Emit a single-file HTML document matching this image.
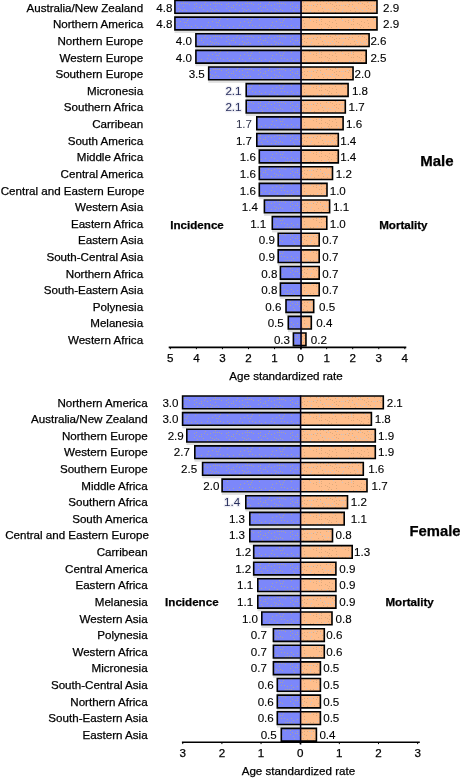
<!DOCTYPE html>
<html><head><meta charset="utf-8"><title>Age standardized rate</title>
<style>
html,body{margin:0;padding:0;background:#fff;}
svg{display:block;font-family:"Liberation Sans",sans-serif;font-size:11.6px;}
text{fill:#000;stroke:#000;stroke-width:0.25px;}
text.v{stroke-width:0.12px;}
text.g{fill:#30344c;stroke:none;}
text.b{fill:#262d5c;stroke:#eeeef4;stroke-width:2.4px;paint-order:stroke;stroke-linejoin:round;}
</style></head><body>
<svg width="460" height="779" viewBox="0 0 460 779">
<rect width="460" height="779" fill="#fff"/>
<defs>
<pattern id="pb" width="32" height="33" patternUnits="userSpaceOnUse"><rect width="32" height="33" fill="#7c87fa"/><rect x="20" y="9" width="1" height="1" fill="#b2a98e" opacity="0.8"/><rect x="25" y="3" width="1" height="1" fill="#b2a98e" opacity="0.8"/><rect x="4" y="6" width="1" height="1" fill="#b2a98e" opacity="0.8"/><rect x="23" y="3" width="1" height="1" fill="#b2a98e" opacity="0.8"/><rect x="13" y="2" width="1" height="1" fill="#b2a98e" opacity="0.8"/><rect x="5" y="27" width="1" height="1" fill="#b2a98e" opacity="0.8"/><rect x="15" y="5" width="1" height="1" fill="#b2a98e" opacity="0.8"/><rect x="27" y="3" width="1" height="1" fill="#b2a98e" opacity="0.8"/><rect x="7" y="14" width="1" height="1" fill="#b2a98e" opacity="0.8"/><rect x="3" y="25" width="1" height="1" fill="#b2a98e" opacity="0.8"/><rect x="3" y="14" width="1" height="1" fill="#b2a98e" opacity="0.8"/><rect x="2" y="8" width="1" height="1" fill="#b2a98e" opacity="0.8"/><rect x="18" y="26" width="1" height="1" fill="#b2a98e" opacity="0.8"/><rect x="9" y="7" width="1" height="1" fill="#b2a98e" opacity="0.8"/><rect x="19" y="11" width="1" height="1" fill="#b2a98e" opacity="0.8"/><rect x="6" y="12" width="1" height="1" fill="#b2a98e" opacity="0.8"/><rect x="23" y="6" width="1" height="1" fill="#b2a98e" opacity="0.8"/><rect x="4" y="3" width="1" height="1" fill="#b2a98e" opacity="0.8"/><rect x="13" y="31" width="1" height="1" fill="#b2a98e" opacity="0.8"/><rect x="27" y="20" width="1" height="1" fill="#b2a98e" opacity="0.8"/><rect x="29" y="29" width="1" height="1" fill="#b2a98e" opacity="0.8"/><rect x="23" y="19" width="1" height="1" fill="#b2a98e" opacity="0.8"/><rect x="15" y="11" width="1" height="1" fill="#b2a98e" opacity="0.8"/><rect x="19" y="31" width="1" height="1" fill="#b2a98e" opacity="0.8"/><rect x="21" y="28" width="1" height="1" fill="#b2a98e" opacity="0.8"/><rect x="18" y="4" width="1" height="1" fill="#b2a98e" opacity="0.8"/><rect x="7" y="32" width="1" height="1" fill="#b2a98e" opacity="0.8"/><rect x="26" y="10" width="1" height="1" fill="#b2a98e" opacity="0.8"/><rect x="31" y="26" width="1" height="1" fill="#b2a98e" opacity="0.8"/><rect x="2" y="4" width="1" height="1" fill="#b2a98e" opacity="0.8"/><rect x="20" y="21" width="1" height="1" fill="#b2a98e" opacity="0.8"/><rect x="22" y="31" width="1" height="1" fill="#b2a98e" opacity="0.8"/><rect x="29" y="4" width="1" height="1" fill="#b2a98e" opacity="0.8"/><rect x="5" y="17" width="1" height="1" fill="#b2a98e" opacity="0.8"/><rect x="3" y="19" width="1" height="1" fill="#b2a98e" opacity="0.8"/><rect x="28" y="18" width="1" height="1" fill="#b2a98e" opacity="0.8"/><rect x="24" y="22" width="1" height="1" fill="#b2a98e" opacity="0.8"/><rect x="1" y="29" width="1" height="1" fill="#b2a98e" opacity="0.8"/><rect x="22" y="10" width="1" height="1" fill="#b2a98e" opacity="0.8"/><rect x="18" y="8" width="1" height="1" fill="#b2a98e" opacity="0.8"/><rect x="15" y="25" width="1" height="1" fill="#b2a98e" opacity="0.8"/><rect x="25" y="31" width="1" height="1" fill="#b2a98e" opacity="0.8"/><rect x="5" y="10" width="1" height="1" fill="#b2a98e" opacity="0.8"/><rect x="28" y="25" width="1" height="1" fill="#b2a98e" opacity="0.8"/><rect x="26" y="22" width="1" height="1" fill="#b2a98e" opacity="0.8"/><rect x="24" y="14" width="1" height="1" fill="#b2a98e" opacity="0.8"/><rect x="9" y="5" width="1" height="1" fill="#b2a98e" opacity="0.8"/><rect x="11" y="9" width="1" height="1" fill="#b2a98e" opacity="0.8"/><rect x="14" y="14" width="1" height="1" fill="#b2a98e" opacity="0.8"/><rect x="0" y="31" width="1" height="1" fill="#b2a98e" opacity="0.8"/><rect x="11" y="16" width="1" height="1" fill="#b2a98e" opacity="0.8"/><rect x="18" y="0" width="1" height="1" fill="#b2a98e" opacity="0.8"/><rect x="9" y="26" width="1" height="1" fill="#b2a98e" opacity="0.8"/><rect x="3" y="29" width="1" height="1" fill="#b2a98e" opacity="0.8"/><rect x="25" y="25" width="1" height="1" fill="#b2a98e" opacity="0.8"/><rect x="6" y="30" width="1" height="1" fill="#b2a98e" opacity="0.8"/><rect x="12" y="4" width="1" height="1" fill="#b2a98e" opacity="0.8"/><rect x="13" y="28" width="1" height="1" fill="#b2a98e" opacity="0.8"/><rect x="21" y="3" width="1" height="1" fill="#b2a98e" opacity="0.8"/><rect x="6" y="0" width="1" height="1" fill="#b2a98e" opacity="0.8"/><rect x="23" y="1" width="1" height="1" fill="#b2a98e" opacity="0.8"/><rect x="24" y="9" width="1" height="1" fill="#b2a98e" opacity="0.8"/><rect x="16" y="22" width="1" height="1" fill="#b2a98e" opacity="0.8"/><rect x="7" y="7" width="1" height="1" fill="#b2a98e" opacity="0.8"/><rect x="31" y="29" width="1" height="1" fill="#b2a98e" opacity="0.8"/><rect x="21" y="16" width="1" height="1" fill="#b2a98e" opacity="0.8"/></pattern>
<pattern id="po" width="32" height="33" patternUnits="userSpaceOnUse"><rect width="32" height="33" fill="#ffbe8c"/><rect x="30" y="10" width="1" height="1" fill="#d8a678" opacity="0.85"/><rect x="1" y="13" width="1" height="1" fill="#d8a678" opacity="0.85"/><rect x="23" y="9" width="1" height="1" fill="#c0c6d4" opacity="0.85"/><rect x="1" y="19" width="1" height="1" fill="#d8a678" opacity="0.85"/><rect x="5" y="16" width="1" height="1" fill="#d8a678" opacity="0.85"/><rect x="22" y="14" width="1" height="1" fill="#c0c6d4" opacity="0.85"/><rect x="12" y="15" width="1" height="1" fill="#d8a678" opacity="0.85"/><rect x="25" y="14" width="1" height="1" fill="#d8a678" opacity="0.85"/><rect x="12" y="31" width="1" height="1" fill="#c0c6d4" opacity="0.85"/><rect x="22" y="1" width="1" height="1" fill="#d8a678" opacity="0.85"/><rect x="1" y="17" width="1" height="1" fill="#d8a678" opacity="0.85"/><rect x="30" y="16" width="1" height="1" fill="#c0c6d4" opacity="0.85"/><rect x="12" y="22" width="1" height="1" fill="#d8a678" opacity="0.85"/><rect x="28" y="22" width="1" height="1" fill="#d8a678" opacity="0.85"/><rect x="23" y="5" width="1" height="1" fill="#c0c6d4" opacity="0.85"/><rect x="14" y="6" width="1" height="1" fill="#d8a678" opacity="0.85"/><rect x="14" y="30" width="1" height="1" fill="#d8a678" opacity="0.85"/><rect x="0" y="30" width="1" height="1" fill="#c0c6d4" opacity="0.85"/><rect x="7" y="24" width="1" height="1" fill="#d8a678" opacity="0.85"/><rect x="11" y="27" width="1" height="1" fill="#d8a678" opacity="0.85"/><rect x="21" y="5" width="1" height="1" fill="#c0c6d4" opacity="0.85"/><rect x="25" y="29" width="1" height="1" fill="#d8a678" opacity="0.85"/><rect x="25" y="5" width="1" height="1" fill="#d8a678" opacity="0.85"/><rect x="10" y="10" width="1" height="1" fill="#c0c6d4" opacity="0.85"/><rect x="8" y="1" width="1" height="1" fill="#d8a678" opacity="0.85"/><rect x="9" y="29" width="1" height="1" fill="#d8a678" opacity="0.85"/><rect x="0" y="6" width="1" height="1" fill="#c0c6d4" opacity="0.85"/><rect x="8" y="27" width="1" height="1" fill="#d8a678" opacity="0.85"/><rect x="12" y="13" width="1" height="1" fill="#d8a678" opacity="0.85"/><rect x="13" y="18" width="1" height="1" fill="#c0c6d4" opacity="0.85"/><rect x="15" y="20" width="1" height="1" fill="#d8a678" opacity="0.85"/><rect x="16" y="26" width="1" height="1" fill="#d8a678" opacity="0.85"/><rect x="8" y="3" width="1" height="1" fill="#c0c6d4" opacity="0.85"/><rect x="22" y="29" width="1" height="1" fill="#d8a678" opacity="0.85"/><rect x="26" y="32" width="1" height="1" fill="#d8a678" opacity="0.85"/><rect x="8" y="9" width="1" height="1" fill="#c0c6d4" opacity="0.85"/><rect x="1" y="28" width="1" height="1" fill="#d8a678" opacity="0.85"/><rect x="11" y="0" width="1" height="1" fill="#d8a678" opacity="0.85"/><rect x="20" y="30" width="1" height="1" fill="#c0c6d4" opacity="0.85"/><rect x="6" y="3" width="1" height="1" fill="#d8a678" opacity="0.85"/><rect x="15" y="12" width="1" height="1" fill="#d8a678" opacity="0.85"/><rect x="17" y="2" width="1" height="1" fill="#c0c6d4" opacity="0.85"/><rect x="6" y="32" width="1" height="1" fill="#d8a678" opacity="0.85"/><rect x="28" y="1" width="1" height="1" fill="#d8a678" opacity="0.85"/><rect x="4" y="28" width="1" height="1" fill="#c0c6d4" opacity="0.85"/><rect x="20" y="32" width="1" height="1" fill="#d8a678" opacity="0.85"/><rect x="28" y="32" width="1" height="1" fill="#d8a678" opacity="0.85"/><rect x="30" y="32" width="1" height="1" fill="#c0c6d4" opacity="0.85"/><rect x="15" y="16" width="1" height="1" fill="#d8a678" opacity="0.85"/><rect x="28" y="20" width="1" height="1" fill="#d8a678" opacity="0.85"/><rect x="27" y="4" width="1" height="1" fill="#c0c6d4" opacity="0.85"/><rect x="16" y="8" width="1" height="1" fill="#d8a678" opacity="0.85"/><rect x="29" y="14" width="1" height="1" fill="#d8a678" opacity="0.85"/><rect x="14" y="10" width="1" height="1" fill="#c0c6d4" opacity="0.85"/><rect x="25" y="21" width="1" height="1" fill="#d8a678" opacity="0.85"/><rect x="26" y="12" width="1" height="1" fill="#d8a678" opacity="0.85"/><rect x="22" y="20" width="1" height="1" fill="#c0c6d4" opacity="0.85"/><rect x="5" y="23" width="1" height="1" fill="#d8a678" opacity="0.85"/><rect x="1" y="21" width="1" height="1" fill="#d8a678" opacity="0.85"/><rect x="29" y="28" width="1" height="1" fill="#c0c6d4" opacity="0.85"/><rect x="1" y="24" width="1" height="1" fill="#d8a678" opacity="0.85"/><rect x="21" y="18" width="1" height="1" fill="#d8a678" opacity="0.85"/><rect x="4" y="7" width="1" height="1" fill="#c0c6d4" opacity="0.85"/><rect x="11" y="17" width="1" height="1" fill="#d8a678" opacity="0.85"/><rect x="9" y="32" width="1" height="1" fill="#d8a678" opacity="0.85"/><rect x="31" y="20" width="1" height="1" fill="#c0c6d4" opacity="0.85"/><rect x="3" y="11" width="1" height="1" fill="#d8a678" opacity="0.85"/><rect x="5" y="14" width="1" height="1" fill="#d8a678" opacity="0.85"/><rect x="7" y="29" width="1" height="1" fill="#c0c6d4" opacity="0.85"/><rect x="26" y="17" width="1" height="1" fill="#d8a678" opacity="0.85"/><rect x="19" y="13" width="1" height="1" fill="#d8a678" opacity="0.85"/><rect x="18" y="28" width="1" height="1" fill="#c0c6d4" opacity="0.85"/><rect x="0" y="1" width="1" height="1" fill="#d8a678" opacity="0.85"/><rect x="28" y="6" width="1" height="1" fill="#d8a678" opacity="0.85"/><rect x="12" y="8" width="1" height="1" fill="#c0c6d4" opacity="0.85"/><rect x="0" y="4" width="1" height="1" fill="#d8a678" opacity="0.85"/><rect x="10" y="3" width="1" height="1" fill="#d8a678" opacity="0.85"/><rect x="18" y="15" width="1" height="1" fill="#c0c6d4" opacity="0.85"/><rect x="16" y="23" width="1" height="1" fill="#d8a678" opacity="0.85"/><rect x="15" y="2" width="1" height="1" fill="#d8a678" opacity="0.85"/><rect x="22" y="11" width="1" height="1" fill="#c0c6d4" opacity="0.85"/><rect x="16" y="5" width="1" height="1" fill="#d8a678" opacity="0.85"/><rect x="9" y="25" width="1" height="1" fill="#d8a678" opacity="0.85"/><rect x="5" y="9" width="1" height="1" fill="#c0c6d4" opacity="0.85"/><rect x="18" y="9" width="1" height="1" fill="#d8a678" opacity="0.85"/><rect x="2" y="32" width="1" height="1" fill="#d8a678" opacity="0.85"/><rect x="5" y="1" width="1" height="1" fill="#c0c6d4" opacity="0.85"/><rect x="2" y="8" width="1" height="1" fill="#d8a678" opacity="0.85"/><rect x="3" y="1" width="1" height="1" fill="#d8a678" opacity="0.85"/><rect x="16" y="0" width="1" height="1" fill="#c0c6d4" opacity="0.85"/><rect x="29" y="4" width="1" height="1" fill="#d8a678" opacity="0.85"/><rect x="31" y="24" width="1" height="1" fill="#d8a678" opacity="0.85"/><rect x="4" y="30" width="1" height="1" fill="#c0c6d4" opacity="0.85"/><rect x="12" y="4" width="1" height="1" fill="#d8a678" opacity="0.85"/><rect x="9" y="21" width="1" height="1" fill="#d8a678" opacity="0.85"/><rect x="31" y="18" width="1" height="1" fill="#c0c6d4" opacity="0.85"/><rect x="7" y="12" width="1" height="1" fill="#d8a678" opacity="0.85"/><rect x="19" y="5" width="1" height="1" fill="#d8a678" opacity="0.85"/><rect x="30" y="1" width="1" height="1" fill="#c0c6d4" opacity="0.85"/><rect x="4" y="32" width="1" height="1" fill="#d8a678" opacity="0.85"/></pattern>
</defs>
<rect x="174.60" y="14.05" width="126.45" height="2.32" fill="#e0e0e0"/>
<path d="M301.05 0.55H174.90V13.25H301.05" fill="url(#pb)" stroke="#000" stroke-width="1.6"/>
<path d="M301.05 0.55H377.00V13.25H301.05" fill="url(#po)" stroke="#000" stroke-width="1.6"/>
<text x="143.1" y="11.70" text-anchor="end">Australia/New Zealand</text>
<text x="156.23" y="11.70" font-size="11.6" class="v">4.8</text>
<text x="383.00" y="11.70" font-size="11.6" class="v">2.9</text>
<rect x="174.60" y="30.67" width="126.45" height="2.32" fill="#e0e0e0"/>
<path d="M301.05 17.17H174.90V29.87H301.05" fill="url(#pb)" stroke="#000" stroke-width="1.6"/>
<path d="M301.05 17.17H377.00V29.87H301.05" fill="url(#po)" stroke="#000" stroke-width="1.6"/>
<text x="143.1" y="28.32" text-anchor="end">Northern America</text>
<text x="156.23" y="28.32" font-size="11.6" class="v">4.8</text>
<text x="383.00" y="28.32" font-size="11.6" class="v">2.9</text>
<rect x="195.60" y="47.29" width="105.45" height="2.32" fill="#e0e0e0"/>
<path d="M301.05 33.79H195.90V46.49H301.05" fill="url(#pb)" stroke="#000" stroke-width="1.6"/>
<path d="M301.05 33.79H369.10V46.49H301.05" fill="url(#po)" stroke="#000" stroke-width="1.6"/>
<text x="143.1" y="44.94" text-anchor="end">Northern Europe</text>
<text x="175.83" y="44.94" font-size="11.6" class="v">4.0</text>
<text x="370.40" y="44.94" font-size="11.6" class="v">2.6</text>
<rect x="195.60" y="63.91" width="105.45" height="2.32" fill="#e0e0e0"/>
<path d="M301.05 50.41H195.90V63.11H301.05" fill="url(#pb)" stroke="#000" stroke-width="1.6"/>
<path d="M301.05 50.41H366.20V63.11H301.05" fill="url(#po)" stroke="#000" stroke-width="1.6"/>
<text x="143.1" y="61.56" text-anchor="end">Western Europe</text>
<text x="175.83" y="61.56" font-size="11.6" class="v">4.0</text>
<text x="370.40" y="61.56" font-size="11.6" class="v">2.5</text>
<rect x="208.40" y="80.53" width="92.65" height="2.32" fill="#e0e0e0"/>
<path d="M301.05 67.03H208.70V79.73H301.05" fill="url(#pb)" stroke="#000" stroke-width="1.6"/>
<path d="M301.05 67.03H353.05V79.73H301.05" fill="url(#po)" stroke="#000" stroke-width="1.6"/>
<text x="143.1" y="78.18" text-anchor="end">Southern Europe</text>
<text x="188.63" y="78.18" font-size="11.6" class="v">3.5</text>
<text x="354.50" y="78.18" font-size="11.6" class="v">2.0</text>
<rect x="245.90" y="97.15" width="55.15" height="2.32" fill="#e0e0e0"/>
<path d="M301.05 83.65H246.20V96.35H301.05" fill="url(#pb)" stroke="#000" stroke-width="1.6"/>
<path d="M301.05 83.65H348.10V96.35H301.05" fill="url(#po)" stroke="#000" stroke-width="1.6"/>
<text x="143.1" y="94.80" text-anchor="end">Micronesia</text>
<text x="225.43" y="94.80" font-size="11.6" class="b">2.1</text>
<text x="351.90" y="94.80" font-size="11.6" class="v">1.8</text>
<rect x="245.90" y="113.77" width="55.15" height="2.32" fill="#e0e0e0"/>
<path d="M301.05 100.27H246.20V112.97H301.05" fill="url(#pb)" stroke="#000" stroke-width="1.6"/>
<path d="M301.05 100.27H345.30V112.97H301.05" fill="url(#po)" stroke="#000" stroke-width="1.6"/>
<text x="143.1" y="111.42" text-anchor="end">Southern Africa</text>
<text x="225.43" y="111.42" font-size="11.6" class="b">2.1</text>
<text x="348.60" y="111.42" font-size="11.6" class="v">1.7</text>
<rect x="256.50" y="130.39" width="44.55" height="2.32" fill="#e0e0e0"/>
<path d="M301.05 116.89H256.80V129.59H301.05" fill="url(#pb)" stroke="#000" stroke-width="1.6"/>
<path d="M301.05 116.89H343.10V129.59H301.05" fill="url(#po)" stroke="#000" stroke-width="1.6"/>
<text x="143.1" y="128.04" text-anchor="end">Carribean</text>
<text x="235.93" y="128.04" font-size="11.6" class="g">1.7</text>
<text x="346.00" y="128.04" font-size="11.6" class="v">1.6</text>
<rect x="256.50" y="147.01" width="44.55" height="2.32" fill="#e0e0e0"/>
<path d="M301.05 133.51H256.80V146.21H301.05" fill="url(#pb)" stroke="#000" stroke-width="1.6"/>
<path d="M301.05 133.51H338.30V146.21H301.05" fill="url(#po)" stroke="#000" stroke-width="1.6"/>
<text x="143.1" y="144.66" text-anchor="end">South America</text>
<text x="235.93" y="144.66" font-size="11.6" class="v">1.7</text>
<text x="340.20" y="144.66" font-size="11.6" class="v">1.4</text>
<rect x="259.00" y="163.63" width="42.05" height="2.32" fill="#e0e0e0"/>
<path d="M301.05 150.13H259.30V162.83H301.05" fill="url(#pb)" stroke="#000" stroke-width="1.6"/>
<path d="M301.05 150.13H338.30V162.83H301.05" fill="url(#po)" stroke="#000" stroke-width="1.6"/>
<text x="143.1" y="161.28" text-anchor="end">Middle Africa</text>
<text x="239.83" y="161.28" font-size="11.6" class="v">1.6</text>
<text x="340.20" y="161.28" font-size="11.6" class="v">1.4</text>
<rect x="259.00" y="180.25" width="42.05" height="2.32" fill="#e0e0e0"/>
<path d="M301.05 166.75H259.30V179.45H301.05" fill="url(#pb)" stroke="#000" stroke-width="1.6"/>
<path d="M301.05 166.75H332.50V179.45H301.05" fill="url(#po)" stroke="#000" stroke-width="1.6"/>
<text x="143.1" y="177.90" text-anchor="end">Central America</text>
<text x="239.83" y="177.90" font-size="11.6" class="v">1.6</text>
<text x="335.80" y="177.90" font-size="11.6" class="v">1.2</text>
<rect x="259.00" y="196.87" width="42.05" height="2.32" fill="#e0e0e0"/>
<path d="M301.05 183.37H259.30V196.07H301.05" fill="url(#pb)" stroke="#000" stroke-width="1.6"/>
<path d="M301.05 183.37H327.00V196.07H301.05" fill="url(#po)" stroke="#000" stroke-width="1.6"/>
<text x="144.4" y="194.52" text-anchor="end">Central and Eastern Europe</text>
<text x="239.83" y="194.52" font-size="11.6" class="v">1.6</text>
<text x="329.70" y="194.52" font-size="11.6" class="v">1.0</text>
<rect x="264.10" y="213.49" width="36.95" height="2.32" fill="#e0e0e0"/>
<path d="M301.05 199.99H264.40V212.69H301.05" fill="url(#pb)" stroke="#000" stroke-width="1.6"/>
<path d="M301.05 199.99H329.60V212.69H301.05" fill="url(#po)" stroke="#000" stroke-width="1.6"/>
<text x="143.1" y="211.14" text-anchor="end">Western Asia</text>
<text x="241.83" y="211.14" font-size="11.6" class="v">1.4</text>
<text x="333.00" y="211.14" font-size="11.6" class="v">1.1</text>
<rect x="272.00" y="230.11" width="29.05" height="2.32" fill="#e0e0e0"/>
<path d="M301.05 216.61H272.30V229.31H301.05" fill="url(#pb)" stroke="#000" stroke-width="1.6"/>
<path d="M301.05 216.61H326.80V229.31H301.05" fill="url(#po)" stroke="#000" stroke-width="1.6"/>
<text x="143.1" y="227.76" text-anchor="end">Eastern Africa</text>
<text x="250.13" y="227.76" font-size="11.6" class="v">1.1</text>
<text x="329.70" y="227.76" font-size="11.6" class="v">1.0</text>
<rect x="277.90" y="246.73" width="23.15" height="2.32" fill="#e0e0e0"/>
<path d="M301.05 233.23H278.20V245.93H301.05" fill="url(#pb)" stroke="#000" stroke-width="1.6"/>
<path d="M301.05 233.23H319.20V245.93H301.05" fill="url(#po)" stroke="#000" stroke-width="1.6"/>
<text x="143.1" y="244.38" text-anchor="end">Eastern Asia</text>
<text x="258.83" y="244.38" font-size="11.6" class="v">0.9</text>
<text x="322.30" y="244.38" font-size="11.6" class="v">0.7</text>
<rect x="277.90" y="263.35" width="23.15" height="2.32" fill="#e0e0e0"/>
<path d="M301.05 249.85H278.20V262.55H301.05" fill="url(#pb)" stroke="#000" stroke-width="1.6"/>
<path d="M301.05 249.85H319.20V262.55H301.05" fill="url(#po)" stroke="#000" stroke-width="1.6"/>
<text x="143.1" y="261.00" text-anchor="end">South-Central Asia</text>
<text x="258.83" y="261.00" font-size="11.6" class="v">0.9</text>
<text x="322.30" y="261.00" font-size="11.6" class="v">0.7</text>
<rect x="280.10" y="279.97" width="20.95" height="2.32" fill="#e0e0e0"/>
<path d="M301.05 266.47H280.40V279.17H301.05" fill="url(#pb)" stroke="#000" stroke-width="1.6"/>
<path d="M301.05 266.47H319.20V279.17H301.05" fill="url(#po)" stroke="#000" stroke-width="1.6"/>
<text x="143.1" y="277.62" text-anchor="end">Northern Africa</text>
<text x="261.33" y="277.62" font-size="11.6" class="v">0.8</text>
<text x="322.30" y="277.62" font-size="11.6" class="v">0.7</text>
<rect x="280.10" y="296.59" width="20.95" height="2.32" fill="#e0e0e0"/>
<path d="M301.05 283.09H280.40V295.79H301.05" fill="url(#pb)" stroke="#000" stroke-width="1.6"/>
<path d="M301.05 283.09H319.20V295.79H301.05" fill="url(#po)" stroke="#000" stroke-width="1.6"/>
<text x="143.1" y="294.24" text-anchor="end">South-Eastern Asia</text>
<text x="261.33" y="294.24" font-size="11.6" class="v">0.8</text>
<text x="322.30" y="294.24" font-size="11.6" class="v">0.7</text>
<rect x="285.70" y="313.21" width="15.35" height="2.32" fill="#e0e0e0"/>
<path d="M301.05 299.71H286.00V312.41H301.05" fill="url(#pb)" stroke="#000" stroke-width="1.6"/>
<path d="M301.05 299.71H313.70V312.41H301.05" fill="url(#po)" stroke="#000" stroke-width="1.6"/>
<text x="143.1" y="310.86" text-anchor="end">Polynesia</text>
<text x="265.33" y="310.86" font-size="11.6" class="v">0.6</text>
<text x="319.10" y="310.86" font-size="11.6" class="v">0.5</text>
<rect x="288.00" y="329.83" width="13.05" height="2.32" fill="#e0e0e0"/>
<path d="M301.05 316.33H288.30V329.03H301.05" fill="url(#pb)" stroke="#000" stroke-width="1.6"/>
<path d="M301.05 316.33H311.30V329.03H301.05" fill="url(#po)" stroke="#000" stroke-width="1.6"/>
<text x="143.1" y="327.48" text-anchor="end">Melanesia</text>
<text x="267.63" y="327.48" font-size="11.6" class="v">0.5</text>
<text x="316.30" y="327.48" font-size="11.6" class="v">0.4</text>
<path d="M301.05 332.95H293.40V345.65H301.05" fill="url(#pb)" stroke="#000" stroke-width="1.6"/>
<path d="M301.05 332.95H305.95V345.65H301.05" fill="url(#po)" stroke="#000" stroke-width="1.6"/>
<text x="143.1" y="344.10" text-anchor="end">Western Africa</text>
<text x="273.93" y="344.10" font-size="11.6" class="v">0.3</text>
<text x="310.80" y="344.10" font-size="11.6" class="v">0.2</text>
<line x1="301.05" y1="-0.25" x2="301.05" y2="349.59999999999997" stroke="#000018" stroke-width="1.6"/>
<line x1="168.7" y1="347.4" x2="406.3" y2="347.4" stroke="#000" stroke-width="1.6"/>
<line x1="170.35" y1="347.4" x2="170.35" y2="349.2" stroke="#000" stroke-width="1"/>
<text x="170.35" y="362.40" text-anchor="middle">5</text>
<line x1="196.40" y1="347.4" x2="196.40" y2="349.2" stroke="#000" stroke-width="1"/>
<text x="196.40" y="362.40" text-anchor="middle">4</text>
<line x1="222.45" y1="347.4" x2="222.45" y2="349.2" stroke="#000" stroke-width="1"/>
<text x="222.45" y="362.40" text-anchor="middle">3</text>
<line x1="248.50" y1="347.4" x2="248.50" y2="349.2" stroke="#000" stroke-width="1"/>
<text x="248.50" y="362.40" text-anchor="middle">2</text>
<line x1="274.55" y1="347.4" x2="274.55" y2="349.2" stroke="#000" stroke-width="1"/>
<text x="274.55" y="362.40" text-anchor="middle">1</text>
<line x1="300.60" y1="347.4" x2="300.60" y2="349.2" stroke="#000" stroke-width="1"/>
<text x="300.60" y="362.40" text-anchor="middle">0</text>
<line x1="326.65" y1="347.4" x2="326.65" y2="349.2" stroke="#000" stroke-width="1"/>
<text x="326.65" y="362.40" text-anchor="middle">1</text>
<line x1="352.70" y1="347.4" x2="352.70" y2="349.2" stroke="#000" stroke-width="1"/>
<text x="352.70" y="362.40" text-anchor="middle">2</text>
<line x1="378.75" y1="347.4" x2="378.75" y2="349.2" stroke="#000" stroke-width="1"/>
<text x="378.75" y="362.40" text-anchor="middle">3</text>
<line x1="404.80" y1="347.4" x2="404.80" y2="349.2" stroke="#000" stroke-width="1"/>
<text x="404.80" y="362.40" text-anchor="middle">4</text>
<text x="229.3" y="380.2">Age standardized rate</text>
<text x="170.3" y="228.7" font-weight="bold">Incidence</text>
<text x="379.2" y="228.7" font-weight="bold">Mortality</text>
<text x="420.2" y="166.4" font-weight="bold" font-size="15.0">Male</text>
<rect x="182.30" y="409.50" width="118.30" height="2.32" fill="#e0e0e0"/>
<path d="M300.60 396.00H182.60V408.70H300.60" fill="url(#pb)" stroke="#000" stroke-width="1.6"/>
<path d="M300.60 396.00H383.30V408.70H300.60" fill="url(#po)" stroke="#000" stroke-width="1.6"/>
<text x="147.6" y="406.50" text-anchor="end">Northern America</text>
<text x="162.43" y="406.50" font-size="11.6" class="v">3.0</text>
<text x="386.70" y="406.50" font-size="11.6" class="v">2.1</text>
<rect x="182.30" y="426.12" width="118.30" height="2.32" fill="#e0e0e0"/>
<path d="M300.60 412.62H182.60V425.32H300.60" fill="url(#pb)" stroke="#000" stroke-width="1.6"/>
<path d="M300.60 412.62H371.40V425.32H300.60" fill="url(#po)" stroke="#000" stroke-width="1.6"/>
<text x="147.6" y="423.12" text-anchor="end">Australia/New Zealand</text>
<text x="162.43" y="423.12" font-size="11.6" class="v">3.0</text>
<text x="374.70" y="423.12" font-size="11.6" class="v">1.8</text>
<rect x="186.50" y="442.74" width="114.10" height="2.32" fill="#e0e0e0"/>
<path d="M300.60 429.24H186.80V441.94H300.60" fill="url(#pb)" stroke="#000" stroke-width="1.6"/>
<path d="M300.60 429.24H375.30V441.94H300.60" fill="url(#po)" stroke="#000" stroke-width="1.6"/>
<text x="147.6" y="439.74" text-anchor="end">Northern Europe</text>
<text x="167.63" y="439.74" font-size="11.6" class="v">2.9</text>
<text x="378.00" y="439.74" font-size="11.6" class="v">1.9</text>
<rect x="194.50" y="459.36" width="106.10" height="2.32" fill="#e0e0e0"/>
<path d="M300.60 445.86H194.80V458.56H300.60" fill="url(#pb)" stroke="#000" stroke-width="1.6"/>
<path d="M300.60 445.86H375.30V458.56H300.60" fill="url(#po)" stroke="#000" stroke-width="1.6"/>
<text x="147.6" y="456.36" text-anchor="end">Western Europe</text>
<text x="173.73" y="456.36" font-size="11.6" class="v">2.7</text>
<text x="378.00" y="456.36" font-size="11.6" class="v">1.9</text>
<rect x="202.30" y="475.98" width="98.30" height="2.32" fill="#e0e0e0"/>
<path d="M300.60 462.48H202.60V475.18H300.60" fill="url(#pb)" stroke="#000" stroke-width="1.6"/>
<path d="M300.60 462.48H363.30V475.18H300.60" fill="url(#po)" stroke="#000" stroke-width="1.6"/>
<text x="147.6" y="472.98" text-anchor="end">Southern Europe</text>
<text x="181.03" y="472.98" font-size="11.6" class="v">2.5</text>
<text x="368.20" y="472.98" font-size="11.6" class="v">1.6</text>
<rect x="221.80" y="492.60" width="78.80" height="2.32" fill="#e0e0e0"/>
<path d="M300.60 479.10H222.10V491.80H300.60" fill="url(#pb)" stroke="#000" stroke-width="1.6"/>
<path d="M300.60 479.10H367.00V491.80H300.60" fill="url(#po)" stroke="#000" stroke-width="1.6"/>
<text x="147.6" y="489.60" text-anchor="end">Middle Africa</text>
<text x="203.33" y="489.60" font-size="11.6" class="v">2.0</text>
<text x="371.50" y="489.60" font-size="11.6" class="v">1.7</text>
<rect x="245.50" y="509.22" width="55.10" height="2.32" fill="#e0e0e0"/>
<path d="M300.60 495.72H245.80V508.42H300.60" fill="url(#pb)" stroke="#000" stroke-width="1.6"/>
<path d="M300.60 495.72H347.50V508.42H300.60" fill="url(#po)" stroke="#000" stroke-width="1.6"/>
<text x="147.6" y="506.22" text-anchor="end">Southern Africa</text>
<text x="224.03" y="506.22" font-size="11.6" class="b">1.4</text>
<text x="350.80" y="506.22" font-size="11.6" class="v">1.2</text>
<rect x="249.50" y="525.84" width="51.10" height="2.32" fill="#e0e0e0"/>
<path d="M300.60 512.34H249.80V525.04H300.60" fill="url(#pb)" stroke="#000" stroke-width="1.6"/>
<path d="M300.60 512.34H344.20V525.04H300.60" fill="url(#po)" stroke="#000" stroke-width="1.6"/>
<text x="147.6" y="522.84" text-anchor="end">South America</text>
<text x="228.93" y="522.84" font-size="11.6" class="v">1.3</text>
<text x="350.80" y="522.84" font-size="11.6" class="v">1.1</text>
<rect x="249.50" y="542.46" width="51.10" height="2.32" fill="#e0e0e0"/>
<path d="M300.60 528.96H249.80V541.66H300.60" fill="url(#pb)" stroke="#000" stroke-width="1.6"/>
<path d="M300.60 528.96H332.50V541.66H300.60" fill="url(#po)" stroke="#000" stroke-width="1.6"/>
<text x="148.9" y="539.46" text-anchor="end">Central and Eastern Europe</text>
<text x="228.93" y="539.46" font-size="11.6" class="v">1.3</text>
<text x="335.60" y="539.46" font-size="11.6" class="v">0.8</text>
<rect x="253.40" y="559.08" width="47.20" height="2.32" fill="#e0e0e0"/>
<path d="M300.60 545.58H253.70V558.28H300.60" fill="url(#pb)" stroke="#000" stroke-width="1.6"/>
<path d="M300.60 545.58H352.20V558.28H300.60" fill="url(#po)" stroke="#000" stroke-width="1.6"/>
<text x="147.6" y="556.08" text-anchor="end">Carribean</text>
<text x="235.13" y="556.08" font-size="11.6" class="v">1.2</text>
<text x="354.10" y="556.08" font-size="11.6" class="v">1.3</text>
<rect x="253.40" y="575.70" width="47.20" height="2.32" fill="#e0e0e0"/>
<path d="M300.60 562.20H253.70V574.90H300.60" fill="url(#pb)" stroke="#000" stroke-width="1.6"/>
<path d="M300.60 562.20H335.90V574.90H300.60" fill="url(#po)" stroke="#000" stroke-width="1.6"/>
<text x="147.6" y="572.70" text-anchor="end">Central America</text>
<text x="235.13" y="572.70" font-size="11.6" class="v">1.2</text>
<text x="339.30" y="572.70" font-size="11.6" class="v">0.9</text>
<rect x="257.50" y="592.32" width="43.10" height="2.32" fill="#e0e0e0"/>
<path d="M300.60 578.82H257.80V591.52H300.60" fill="url(#pb)" stroke="#000" stroke-width="1.6"/>
<path d="M300.60 578.82H335.90V591.52H300.60" fill="url(#po)" stroke="#000" stroke-width="1.6"/>
<text x="147.6" y="589.32" text-anchor="end">Eastern Africa</text>
<text x="237.03" y="589.32" font-size="11.6" class="v">1.1</text>
<text x="339.30" y="589.32" font-size="11.6" class="v">0.9</text>
<rect x="257.50" y="608.94" width="43.10" height="2.32" fill="#e0e0e0"/>
<path d="M300.60 595.44H257.80V608.14H300.60" fill="url(#pb)" stroke="#000" stroke-width="1.6"/>
<path d="M300.60 595.44H335.90V608.14H300.60" fill="url(#po)" stroke="#000" stroke-width="1.6"/>
<text x="147.6" y="605.94" text-anchor="end">Melanesia</text>
<text x="237.03" y="605.94" font-size="11.6" class="v">1.1</text>
<text x="339.30" y="605.94" font-size="11.6" class="v">0.9</text>
<rect x="261.50" y="625.56" width="39.10" height="2.32" fill="#e0e0e0"/>
<path d="M300.60 612.06H261.80V624.76H300.60" fill="url(#pb)" stroke="#000" stroke-width="1.6"/>
<path d="M300.60 612.06H332.00V624.76H300.60" fill="url(#po)" stroke="#000" stroke-width="1.6"/>
<text x="147.6" y="622.56" text-anchor="end">Western Asia</text>
<text x="241.93" y="622.56" font-size="11.6" class="v">1.0</text>
<text x="335.60" y="622.56" font-size="11.6" class="v">0.8</text>
<rect x="273.10" y="642.18" width="27.50" height="2.32" fill="#e0e0e0"/>
<path d="M300.60 628.68H273.40V641.38H300.60" fill="url(#pb)" stroke="#000" stroke-width="1.6"/>
<path d="M300.60 628.68H324.30V641.38H300.60" fill="url(#po)" stroke="#000" stroke-width="1.6"/>
<text x="147.6" y="639.18" text-anchor="end">Polynesia</text>
<text x="250.83" y="639.18" font-size="11.6" class="v">0.7</text>
<text x="326.30" y="639.18" font-size="11.6" class="v">0.6</text>
<rect x="273.10" y="658.80" width="27.50" height="2.32" fill="#e0e0e0"/>
<path d="M300.60 645.30H273.40V658.00H300.60" fill="url(#pb)" stroke="#000" stroke-width="1.6"/>
<path d="M300.60 645.30H324.30V658.00H300.60" fill="url(#po)" stroke="#000" stroke-width="1.6"/>
<text x="147.6" y="655.80" text-anchor="end">Western Africa</text>
<text x="250.83" y="655.80" font-size="11.6" class="v">0.7</text>
<text x="326.30" y="655.80" font-size="11.6" class="v">0.6</text>
<rect x="273.10" y="675.42" width="27.50" height="2.32" fill="#e0e0e0"/>
<path d="M300.60 661.92H273.40V674.62H300.60" fill="url(#pb)" stroke="#000" stroke-width="1.6"/>
<path d="M300.60 661.92H320.40V674.62H300.60" fill="url(#po)" stroke="#000" stroke-width="1.6"/>
<text x="147.6" y="672.42" text-anchor="end">Micronesia</text>
<text x="250.83" y="672.42" font-size="11.6" class="v">0.7</text>
<text x="323.20" y="672.42" font-size="11.6" class="v">0.5</text>
<rect x="277.00" y="692.04" width="23.60" height="2.32" fill="#e0e0e0"/>
<path d="M300.60 678.54H277.30V691.24H300.60" fill="url(#pb)" stroke="#000" stroke-width="1.6"/>
<path d="M300.60 678.54H320.40V691.24H300.60" fill="url(#po)" stroke="#000" stroke-width="1.6"/>
<text x="147.6" y="689.04" text-anchor="end">South-Central Asia</text>
<text x="257.63" y="689.04" font-size="11.6" class="v">0.6</text>
<text x="323.20" y="689.04" font-size="11.6" class="v">0.5</text>
<rect x="277.00" y="708.66" width="23.60" height="2.32" fill="#e0e0e0"/>
<path d="M300.60 695.16H277.30V707.86H300.60" fill="url(#pb)" stroke="#000" stroke-width="1.6"/>
<path d="M300.60 695.16H320.40V707.86H300.60" fill="url(#po)" stroke="#000" stroke-width="1.6"/>
<text x="147.6" y="705.66" text-anchor="end">Northern Africa</text>
<text x="257.63" y="705.66" font-size="11.6" class="v">0.6</text>
<text x="323.20" y="705.66" font-size="11.6" class="v">0.5</text>
<rect x="277.00" y="725.28" width="23.60" height="2.32" fill="#e0e0e0"/>
<path d="M300.60 711.78H277.30V724.48H300.60" fill="url(#pb)" stroke="#000" stroke-width="1.6"/>
<path d="M300.60 711.78H320.40V724.48H300.60" fill="url(#po)" stroke="#000" stroke-width="1.6"/>
<text x="147.6" y="722.28" text-anchor="end">South-Eastern Asia</text>
<text x="257.63" y="722.28" font-size="11.6" class="v">0.6</text>
<text x="323.20" y="722.28" font-size="11.6" class="v">0.5</text>
<path d="M300.60 728.40H281.30V741.10H300.60" fill="url(#pb)" stroke="#000" stroke-width="1.6"/>
<path d="M300.60 728.40H316.40V741.10H300.60" fill="url(#po)" stroke="#000" stroke-width="1.6"/>
<text x="147.6" y="738.90" text-anchor="end">Eastern Asia</text>
<text x="260.63" y="738.90" font-size="11.6" class="v">0.5</text>
<text x="319.40" y="738.90" font-size="11.6" class="v">0.4</text>
<line x1="300.6" y1="395.20" x2="300.6" y2="744.5" stroke="#000018" stroke-width="1.5"/>
<line x1="181.9" y1="742.3" x2="419.8" y2="742.3" stroke="#000" stroke-width="1.6"/>
<line x1="182.75" y1="742.3" x2="182.75" y2="744.0999999999999" stroke="#000" stroke-width="1"/>
<text x="182.75" y="757.30" text-anchor="middle">3</text>
<line x1="221.90" y1="742.3" x2="221.90" y2="744.0999999999999" stroke="#000" stroke-width="1"/>
<text x="221.90" y="757.30" text-anchor="middle">2</text>
<line x1="261.05" y1="742.3" x2="261.05" y2="744.0999999999999" stroke="#000" stroke-width="1"/>
<text x="261.05" y="757.30" text-anchor="middle">1</text>
<line x1="300.20" y1="742.3" x2="300.20" y2="744.0999999999999" stroke="#000" stroke-width="1"/>
<text x="300.20" y="757.30" text-anchor="middle">0</text>
<line x1="339.35" y1="742.3" x2="339.35" y2="744.0999999999999" stroke="#000" stroke-width="1"/>
<text x="339.35" y="757.30" text-anchor="middle">1</text>
<line x1="378.50" y1="742.3" x2="378.50" y2="744.0999999999999" stroke="#000" stroke-width="1"/>
<text x="378.50" y="757.30" text-anchor="middle">2</text>
<line x1="417.65" y1="742.3" x2="417.65" y2="744.0999999999999" stroke="#000" stroke-width="1"/>
<text x="417.65" y="757.30" text-anchor="middle">3</text>
<text x="241.7" y="775.2">Age standardized rate</text>
<text x="165.1" y="606.4" font-weight="bold">Incidence</text>
<text x="385.4" y="606.4" font-weight="bold">Mortality</text>
<text x="409.5" y="536" font-weight="bold" font-size="14.8">Female</text>
</svg>
</body></html>
